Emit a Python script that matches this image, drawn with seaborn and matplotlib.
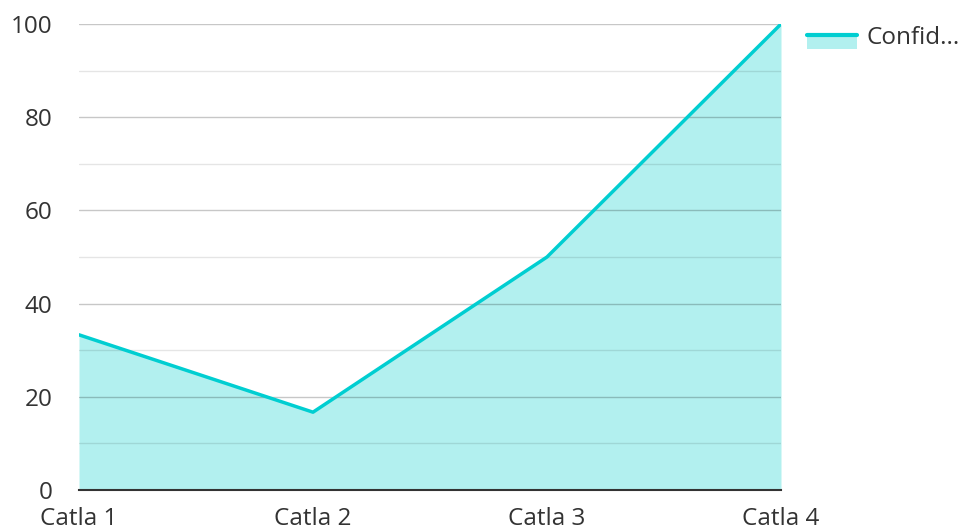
import numpy as np
import pandas as pd
import seaborn as sns
import matplotlib.pyplot as plt
from matplotlib.legend_handler import HandlerBase
from matplotlib.patches import Rectangle
from matplotlib.lines import Line2D

# data
categories = ["Catla 1", "Catla 2", "Catla 3", "Catla 4"]
values = [33.3, 16.7, 50, 100]
series_name = "Confid..."

line_colour = "#00CED1"
fill_colour = "#B2F0EF"

sns.set_style("white")
plt.rcParams['font.family'] = ['Open Sans', 'DejaVu Sans']

df = pd.DataFrame({"pos": np.arange(len(categories)), "value": values})

fig = plt.figure(figsize=(9.63, 5.31), dpi=100)
ax = fig.add_axes([79 / 963, 1 - 490 / 531, (781 - 79) / 963, (490 - 24) / 531])

ax.fill_between(df["pos"], 0, df["value"], color=fill_colour, lw=0, zorder=1)
sns.lineplot(data=df, x="pos", y="value", color=line_colour, lw=2.5, ax=ax, zorder=3)

ax.set_xlim(0, len(categories) - 1)
ax.set_ylim(0, 100)
ax.set_xticks(df["pos"])
ax.set_xticklabels(categories)
ax.set_yticks(range(0, 101, 20))
ax.set_yticks(range(10, 100, 20), minor=True)
ax.set_xlabel("")
ax.set_ylabel("")

# grid lines sit on top of the filled area
ax.set_axisbelow(False)
ax.grid(True, axis="y", which="major", color="black", alpha=0.22, lw=1)
ax.grid(True, axis="y", which="minor", color="black", alpha=0.1, lw=1)
ax.grid(False, axis="x")

for side in ["top", "right", "left"]:
    ax.spines[side].set_visible(False)
ax.spines["bottom"].set_color("#333333")
ax.spines["bottom"].set_linewidth(1.5)
ax.spines["bottom"].set_zorder(4)

ax.tick_params(axis="both", which="both", length=0, labelsize=17.5, colors="#333333")
ax.tick_params(axis="x", pad=12.5)
ax.tick_params(axis="y", pad=19)
for lbl in ax.get_yticklabels():
    lbl.set_horizontalalignment("right")


class AreaHandler(HandlerBase):
    def create_artists(self, legend, orig_handle, xdescent, ydescent,
                       width, height, fontsize, trans):
        top = -ydescent + height * 0.55
        rect = Rectangle((-xdescent, top - height * 0.95), width, height * 0.95,
                         facecolor=fill_colour, edgecolor="none", transform=trans)
        line = Line2D([-xdescent, -xdescent + width], [top, top],
                      color=line_colour, lw=3, transform=trans)
        return [rect, line]


handle = Rectangle((0, 0), 1, 1)
ax.legend([handle], [series_name], handler_map={Rectangle: AreaHandler()},
          loc="upper left", bbox_to_anchor=(807 / 963, 1 - 26 / 531),
          bbox_transform=fig.transFigure, frameon=False, fontsize=17.5,
          borderpad=0, borderaxespad=0,
          handlelength=2.05, handleheight=0.6, handletextpad=0.4,
          labelcolor="#333333")

fig.savefig("out.png", dpi=100)
